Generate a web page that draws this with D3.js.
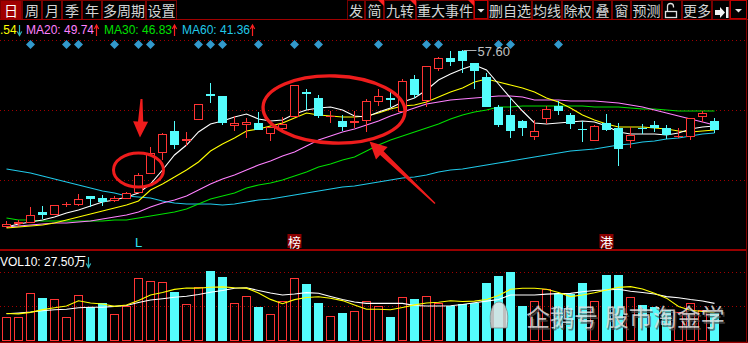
<!DOCTYPE html>
<html>
<head>
<meta charset="utf-8">
<script src="https://cdn.jsdelivr.net/npm/d3@7"></script>
<style>
html, body { margin: 0; padding: 0; background: #000; overflow: hidden; }
svg { display: block; }
text { font-family: "Liberation Sans", "Noto Sans CJK SC", sans-serif; }
</style>
</head>
<body>
<div id="chart"></div>
<script>
// daily K-line data (price)
var opens  = [22.2,22.8,23.0,25.2,24.6,26.6,26.6,28.4,28.0,27.4, 27.8,29.0,32.8,37.0,41.4,39.4,43.6,48.8,48.4,42.4,
              42.6,43.0,40.8,41.8,44.2,49.2,48.0,44.2,43.4,43.0, 43.4,47.2,48.0,45.2,51.8,47.4,53.8,56.0,57.4,55.0,
              52.2,46.2,44.6,43.4,40.2,43.8,46.4,44.6,41.8,39.4, 43.0,42.0,39.4,42.0,42.6,42.0,40.3,40.2,44.2,43.4];
var closes = [22.8,23.2,24.6,24.6,26.6,26.8,27.8,27.8,27.2,28.0, 29.0,32.6,37.0,40.8,38.6,39.8,46.8,48.4,43.0,43.0,
              43.2,41.6,42.2,42.8,50.6,48.8,44.4,44.4,42.2,43.4, 47.4,48.4,47.6,51.4,48.6,54.4,56.0,55.2,55.4,53.4,
              46.2,42.6,41.4,42.0,41.4,45.8,45.4,42.8,41.6,42.4, 41.6,37.8,40.6,41.8,42.0,40.6,40.5,44.0,45.0,41.6];
var highs  = [23.4,23.6,26.2,26.4,26.6,27.2,28.8,28.4,28.6,28.4, 29.2,33.0,38.2,41.0,43.4,41.2,46.8,51.0,48.4,44.4,
              44.0,45.2,42.2,44.2,50.6,49.8,48.6,45.4,44.6,45.4, 47.8,49.8,49.4,51.8,52.6,54.4,56.2,57.4,57.6,55.0,
              53.0,46.6,48.0,43.6,43.6,46.4,47.4,45.0,43.4,42.6, 44.8,43.0,42.2,42.8,43.4,42.6,42.0,44.0,45.4,44.0];
var lows   = [22.0,22.4,23.0,23.8,24.6,26.2,26.4,26.2,26.4,27.2, 27.8,29.0,32.8,35.6,37.8,38.4,43.6,47.0,42.6,41.4,
              40.0,41.6,39.4,41.0,44.2,45.6,44.0,43.0,41.4,42.0, 41.2,46.4,46.2,45.2,48.0,46.2,53.4,54.4,53.0,49.8,
              46.2,42.2,40.0,40.4,39.6,42.8,44.6,41.8,39.2,39.4, 41.4,34.4,38.0,40.8,41.2,39.8,40.0,39.6,43.2,41.0];

// moving averages as drawn
var ma5  = [22.2,22.8,23.2,23.6,24.2,25.0,25.6,26.4,27.2,27.6, 28.2,29.0,30.8,33.6,36.6,38.6,41.2,42.8,43.4,44.2,
            44.8,43.8,43.4,43.6,44.8,45.6,46.0,46.2,45.6,44.4, 44.2,45.2,46.0,47.2,48.0,49.6,51.6,52.8,53.8,54.6,
            53.6,50.8,48.0,45.4,43.0,42.8,43.0,43.2,43.4,43.2, 42.4,41.2,40.8,40.8,40.8,40.6,41.0,41.8,42.2,42.4];
var ma10 = [22.0,22.2,22.4,22.6,23.0,23.6,24.2,24.8,25.4,26.0, 26.6,27.4,29.6,30.8,32.2,33.6,35.2,37.4,38.8,40.0,
            41.4,41.8,42.4,43.0,44.0,45.0,44.6,44.4,44.2,44.2, 44.4,45.0,45.8,46.4,46.6,47.2,48.2,49.2,50.0,51.2,
            51.8,51.2,50.6,50.0,49.2,48.0,47.2,46.0,44.6,43.6, 42.8,42.2,42.2,42.2,42.0,41.8,41.4,41.2,41.4,41.6];
var ma20 = [22.2,22.4,22.6,22.8,23.0,23.0,23.2,23.4,23.8,24.2, 24.6,25.2,26.2,27.0,27.6,28.4,29.6,30.8,31.8,32.6,
            33.6,34.6,35.4,36.4,37.2,38.4,39.6,40.4,41.2,41.8, 42.6,43.4,44.4,45.2,46.0,46.8,47.2,47.6,47.8,48.0,
            48.2,48.4,48.4,48.2,47.6,47.6,47.6,47.4,47.4,47.4, 47.2,47.0,46.6,46.2,45.6,45.0,44.4,43.8,43.2,42.6];
var ma30 = [24.0,23.6,23.6,23.4,23.4,23.4,23.4,23.4,23.4,23.6, 23.6,24.0,24.4,24.8,25.2,25.8,26.8,27.8,28.4,29.0,
            30.0,30.6,31.0,31.6,32.4,33.2,34.2,34.8,35.6,36.2, 37.4,38.6,39.6,40.4,41.2,42.0,42.8,43.8,44.6,45.2,
            45.6,46.2,46.2,46.4,46.4,46.4,46.4,46.4,46.4,46.2, 46.2,46.2,46.0,45.8,45.8,45.6,45.4,45.4,45.4,45.4];
var ma60 = [33.8,33.4,33.0,32.4,31.8,31.2,30.6,30.0,29.4,29.0, 28.4,28.2,28.0,27.4,27.0,26.8,26.8,26.8,26.6,26.8,
            27.2,27.6,27.8,28.2,28.6,29.0,29.4,29.8,30.2,30.4, 30.8,31.2,31.6,32.0,32.2,32.6,33.2,33.6,33.8,34.2,
            34.6,35.0,35.4,35.8,36.2,36.6,37.0,37.4,37.6,37.8, 38.2,38.6,38.8,39.2,39.4,39.8,40.0,40.4,40.8,41.0];

// volume, 万
var vols = [17.3,17.7,34.8,31.2,30.5,17.3,33.4,24.6,27.5,19.5, 25.6,45.8,43.6,42.9,35.8,26.8,39.2,51.1,46.7,27.5,
            32.7,24.8,19.7,29.4,45.8,41.6,27.8,18.0,20.5,21.7, 29.0,25.3,17.5,31.9,30.5,32.7,27.5,25.8,27.0,27.5,
            42.4,47.5,50.4,25.3,29.0,38.2,34.8,34.3,42.4,29.0, 48.2,48.2,31.9,26.3,25.1,22.6,21.4,27.5,22.6,20.2];
var volMa5  = [20.1,19.8,20.9,22.9,24.3,25.6,29.4,27.8,27.0,25.3, 26.3,29.6,33.6,35.4,37.7,38.7,38.6,39.3,39.5,38.9,
               38.6,35.1,30.4,27.2,30.2,31.8,32.3,31.2,29.5,26.3, 23.2,23.2,22.8,24.5,26.4,27.8,28.3,29.4,28.9,29.1,
               30.3,33.2,37.8,38.5,38.5,37.8,35.4,32.4,33.6,35.2, 37.3,39.2,39.7,38.0,34.8,31.3,25.2,22.4,21.6,20.7];
var volMa10 = [19.9,20.5,21.2,22.1,22.8,23.2,24.3,24.6,24.7,25.3, 25.9,28.1,29.9,30.9,31.9,32.7,34.0,35.6,36.9,38.5,
               38.9,36.9,35.1,33.6,34.3,35.3,34.9,32.5,30.3,28.5, 27.5,27.5,27.5,27.5,25.9,25.6,25.6,25.7,26.7,27.9,
               29.1,30.3,33.6,33.6,33.6,34.2,34.6,34.8,36.0,36.9, 37.3,37.8,36.3,35.4,34.3,32.4,31.6,30.3,29.2,27.5];

var signalDays = [2,5,6,9,11,12,16,17,18,21,24,26,31,35,36,41,42,46];
var priceGrid = [31.6, 45.6, 59.6];
var volGrid = [25.6, 50.4];
var maLegend = [["MA20", 49.74], ["MA30", 46.83], ["MA60", 41.36]];
var vol10Last = 27.50;
var leftTabs = ["日","周","月","季","年","多周期","设置"];
var rightTabs = ["发","简","九转","重大事件","","删自选","均线","除权","叠","窗","预测","","更多","",""];
var marks = [[11, "L", false], [24, "榜", true], [50, "港", true]];

var N = opens.length;
var W = 748, H = 343;
var RED = "#ff3434", CYAN = "#54fcfc";
var maColors = ["#ffffff", "#ffff00", "#ff80ff", "#00e000", "#20c8e8"];

var svg = d3.select("#chart").append("svg")
    .attr("width", W).attr("height", H)
    .style("background", "#000");

var x = d3.scaleBand().domain(d3.range(N)).range([0.5, 0.5 + 12 * N]);
var cx = function(i){ return x(i) + x.bandwidth() / 2; };
var yP = d3.scaleLinear().domain([21.2, 61.6]).range([232, 30]);
var yV = d3.scaleLinear().domain([0, 65]).range([341, 252]);
var ry = function(v){ return Math.round(yP(v)); };

// thin tall arrows used after legend values
function tick(g, ax, y0, y1, up, color){
    g.append("line").attr("x1", ax).attr("x2", ax).attr("y1", y0).attr("y2", y1)
        .attr("stroke", color).attr("stroke-width", 1.2);
    var tip = up ? y0 : y1, d = up ? 4 : -4;
    g.append("path").attr("d", "M" + (ax - 2.2) + "," + (tip + d) + " L" + ax + "," + tip + " L" + (ax + 2.2) + "," + (tip + d))
        .attr("fill", "none").attr("stroke", color).attr("stroke-width", 1.2);
}

// ---- toolbar
var leftEdges = [0,22,42,62,82,102,146,177];
var rightEdges = [347,365,384,416,474,488,532,562,593,612,631,662,682,712,730,747];
var bar = svg.append("g");

function tabs(labels, edges){
    labels.forEach(function(t, i){
        var x0 = edges[i], x1 = edges[i + 1];
        bar.append("rect")
            .attr("x", x0 + 0.5).attr("y", 0.5)
            .attr("width", x1 - x0 - 1).attr("height", 19)
            .attr("fill", (labels === leftTabs && i === 0) ? "#a00000" : "#000")
            .attr("stroke", "#780000");
        bar.append("text")
            .attr("x", (x0 + x1) / 2).attr("y", 15.5)
            .attr("text-anchor", "middle")
            .attr("font-size", "14px")
            .attr("fill", (labels === leftTabs && i === 0) ? "#ffffff" : "#d4d4d4")
            .text(t);
    });
}
tabs(leftTabs, leftEdges);
tabs(rightTabs, rightEdges);

bar.append("line").attr("x1", 0).attr("x2", W).attr("y1", 19.5).attr("y2", 19.5)
    .attr("stroke", "#a00000");

// red corner flags
[1, 2, 3].forEach(function(i){
    var r = rightEdges[i + 1];
    bar.append("path").attr("d", "M" + (r - 6) + ",0 L" + r + ",0 L" + r + ",6 Z").attr("fill", "#ff2020");
});
// dropdown boxes
[4, 14].forEach(function(i){
    var x0 = rightEdges[i], x1 = rightEdges[i + 1];
    bar.append("rect").attr("x", x0 + 0.5).attr("y", 0.5).attr("width", x1 - x0 - 1).attr("height", 18)
        .attr("fill", "none").attr("stroke", "#c00000");
    var m = (x0 + x1) / 2;
    bar.append("path").attr("d", "M" + (m - 3.5) + ",9 L" + (m + 3.5) + ",9 L" + m + ",12.5 Z").attr("fill", "#e8e8e8");
});
// open padlock
bar.append("rect").attr("x", 665.5).attr("y", 11.5).attr("width", 11).attr("height", 6)
    .attr("fill", "none").attr("stroke", "#e0e0e0").attr("stroke-width", 1.3);
bar.append("path").attr("d", "M667.5,11.5 L667.5,6.5 Q667.5,3.5 670.5,3.5 Q673.5,3.5 673.5,6.5 L673.5,7.5")
    .attr("fill", "none").attr("stroke", "#e0e0e0").attr("stroke-width", 1.3);
// go-to-end icon
bar.append("path").attr("d", "M715,10 L720,10 L720,7 L725,12.5 L720,18 L720,15 L715,15 Z").attr("fill", "#f0f0f0");
bar.append("rect").attr("x", 726).attr("y", 7).attr("width", 2.5).attr("height", 11).attr("fill", "#f0f0f0");

// ---- MA legend
var leg = svg.append("g").attr("font-size", "12px");
leg.append("text").attr("x", 0).attr("y", 34).attr("fill", "#ffff00").text(".54");
tick(leg, 19.5, 25, 35.5, false, "#30b8c0");
var legX = [26, 104, 182];
maLegend.forEach(function(d, i){
    leg.append("text").attr("x", legX[i]).attr("y", 34).attr("fill", maColors[i + 2])
        .text(d[0] + ": " + d[1].toFixed(2));
    tick(leg, legX[i] + 70.5, 25, 36, true, "#ff2020");
});

// ---- price panel
var grid = svg.append("g");
priceGrid.forEach(function(p){
    var yy = ry(p) + 0.5;
    grid.append("line").attr("x1", 0).attr("x2", 746).attr("y1", yy).attr("y2", yy)
        .attr("stroke", "#a00000").attr("stroke-dasharray", "1,3");
});

// signal diamonds
svg.append("g").selectAll("path").data(signalDays).join("path")
    .attr("transform", function(d){ return "translate(" + cx(d) + ",44.5)"; })
    .attr("d", "M0,-4.5 L4.5,0 L0,4.5 L-4.5,0 Z")
    .attr("fill", "#3399cc");

// MA lines
var maLine = d3.line().x(function(d, i){ return cx(i); }).y(function(d){ return yP(d); });
[ma60, ma30, ma20, ma10, ma5].forEach(function(s, k){
    svg.append("path").datum(s).attr("d", maLine)
        .attr("fill", "none").attr("stroke", maColors[4 - k]).attr("stroke-width", 1.1);
});

// candles
var kg = svg.append("g").attr("shape-rendering", "crispEdges");
d3.range(N).forEach(function(i){
    var up = closes[i] >= opens[i];
    var col = up ? RED : CYAN;
    var c = cx(i);
    var top = ry(Math.max(opens[i], closes[i])), bot = ry(Math.min(opens[i], closes[i]));
    kg.append("line").attr("x1", c).attr("x2", c).attr("y1", ry(highs[i])).attr("y2", ry(lows[i]))
        .attr("stroke", col);
    if (bot - top < 2) {
        kg.append("line").attr("x1", c - 4.5).attr("x2", c + 4.5).attr("y1", top + 0.5).attr("y2", top + 0.5)
            .attr("stroke", col).attr("stroke-width", 1.5);
    } else if (up) {
        kg.append("rect").attr("x", c - 4).attr("y", top + 0.5).attr("width", 8).attr("height", bot - top - 1)
            .attr("fill", "#000").attr("stroke", col);
    } else {
        kg.append("rect").attr("x", c - 4.5).attr("y", top).attr("width", 9).attr("height", bot - top)
            .attr("fill", col);
    }
});

// highest price tag
var hiIdx = d3.maxIndex(highs);
var hy = ry(highs[hiIdx]) + 0.5;
svg.append("line").attr("x1", cx(hiIdx) + 1).attr("x2", cx(hiIdx) + 14).attr("y1", hy).attr("y2", hy)
    .attr("stroke", "#b0b0b0");
svg.append("text").attr("x", cx(hiIdx) + 15).attr("y", hy + 5).attr("font-size", "13px")
    .attr("fill", "#c0c0c0").text(highs[hiIdx].toFixed(2));

// marker labels under the chart
marks.forEach(function(m){
    var c = cx(m[0]);
    if (m[2]) {
        svg.append("rect").attr("x", c - 7).attr("y", 234).attr("width", 14).attr("height", 14).attr("fill", "#8a0000");
        svg.append("text").attr("x", c).attr("y", 246.5).attr("text-anchor", "middle")
            .attr("font-size", "13px").attr("fill", "#ffffff").text(m[1]);
    } else {
        svg.append("text").attr("x", c).attr("y", 247).attr("text-anchor", "middle")
            .attr("font-size", "13px").attr("fill", "#30e0f0").text(m[1]);
    }
});

// ---- annotations (hand drawn in red)
function arrow(t0, t1, headLen, headW, w0, w1){
    var dx = t1[0] - t0[0], dy = t1[1] - t0[1], L = Math.hypot(dx, dy);
    var ux = dx / L, uy = dy / L, nx = -uy, ny = ux;
    var bx = t1[0] - ux * headLen, by = t1[1] - uy * headLen;
    var p = [
        [t0[0] + nx * w0, t0[1] + ny * w0],
        [bx + nx * w1, by + ny * w1],
        [bx + nx * headW, by + ny * headW],
        t1,
        [bx - nx * headW, by - ny * headW],
        [bx - nx * w1, by - ny * w1],
        [t0[0] - nx * w0, t0[1] - ny * w0]
    ];
    return "M" + p.map(function(q){ return q[0].toFixed(1) + "," + q[1].toFixed(1); }).join(" L") + " Z";
}
var ann = svg.append("g");
ann.append("ellipse").attr("cx", cx(11)).attr("cy", 170).attr("rx", 25).attr("ry", 17)
    .attr("fill", "none").attr("stroke", "#ee1c1c").attr("stroke-width", 3);
ann.append("ellipse").attr("cx", 334).attr("cy", 109.5).attr("rx", 71).attr("ry", 33.5)
    .attr("transform", "rotate(2,334,109.5)")
    .attr("fill", "none").attr("stroke", "#ee1c1c").attr("stroke-width", 3.3);
ann.append("path").attr("d", arrow([141.5, 99], [140, 137.5], 16, 7.5, 1, 2.6)).attr("fill", "#ee1c1c");
ann.append("path").attr("d", arrow([435, 203.5], [369.5, 141.5], 17, 8.5, 0.7, 2.6)).attr("fill", "#ee1c1c");

// ---- volume panel
svg.append("line").attr("x1", 0).attr("x2", 746).attr("y1", 250).attr("y2", 250)
    .attr("stroke", "#990000").attr("stroke-width", 2);
svg.append("line").attr("x1", 0).attr("x2", W).attr("y1", 342.5).attr("y2", 342.5)
    .attr("stroke", "#990000").attr("stroke-width", 1.5);
svg.append("line").attr("x1", 746.5).attr("x2", 746.5).attr("y1", 20).attr("y2", H)
    .attr("stroke", "#800000");

volGrid.forEach(function(v){
    var yy = Math.round(yV(v)) + 0.5;
    svg.append("line").attr("x1", 0).attr("x2", 746).attr("y1", yy).attr("y2", yy)
        .attr("stroke", "#a00000").attr("stroke-dasharray", "1,3");
});

svg.append("text").attr("x", 0).attr("y", 266).attr("font-size", "12px").attr("fill", "#ffffff")
    .text("VOL10: " + vol10Last.toFixed(2) + "万");
tick(svg, 88.5, 257, 267.5, false, "#30b8c0");

var vg = svg.append("g").attr("shape-rendering", "crispEdges");
d3.range(N).forEach(function(i){
    var up = closes[i] >= opens[i];
    var c = cx(i);
    var t = Math.round(yV(vols[i]));
    if (up) {
        vg.append("rect").attr("x", c - 4).attr("y", t + 0.5).attr("width", 8).attr("height", 341 - t - 1)
            .attr("fill", "none").attr("stroke", RED);
    } else {
        vg.append("rect").attr("x", c - 4.5).attr("y", t).attr("width", 9).attr("height", 341 - t)
            .attr("fill", CYAN);
    }
});

var volLine = d3.line().x(function(d, i){ return cx(i); }).y(function(d){ return yV(d); });
svg.append("path").datum(volMa10).attr("d", volLine).attr("fill", "none").attr("stroke", "#ffffff").attr("stroke-width", 1.1);
svg.append("path").datum(volMa5).attr("d", volLine).attr("fill", "none").attr("stroke", "#ffff00").attr("stroke-width", 1.1);

// ---- watermark
var wm = svg.append("g");
wm.append("path")
    .attr("d", "M491,328 Q489,314 492,308 Q494,302 499,302 Q504,302 506,308 Q509,314 507,328 Z")
    .attr("fill", "rgba(225,225,225,0.85)").attr("stroke", "rgba(120,120,120,0.7)");
wm.append("text").attr("x", 527.5).attr("y", 327.5).attr("font-size", "24px")
    .attr("fill", "rgba(80,80,80,0.7)")
    .text("企鹅号 股市淘金学");
wm.append("text").attr("x", 526).attr("y", 326).attr("font-size", "24px")
    .attr("fill", "rgba(222,222,222,0.85)")
    .text("企鹅号 股市淘金学");
</script>
</body>
</html>
